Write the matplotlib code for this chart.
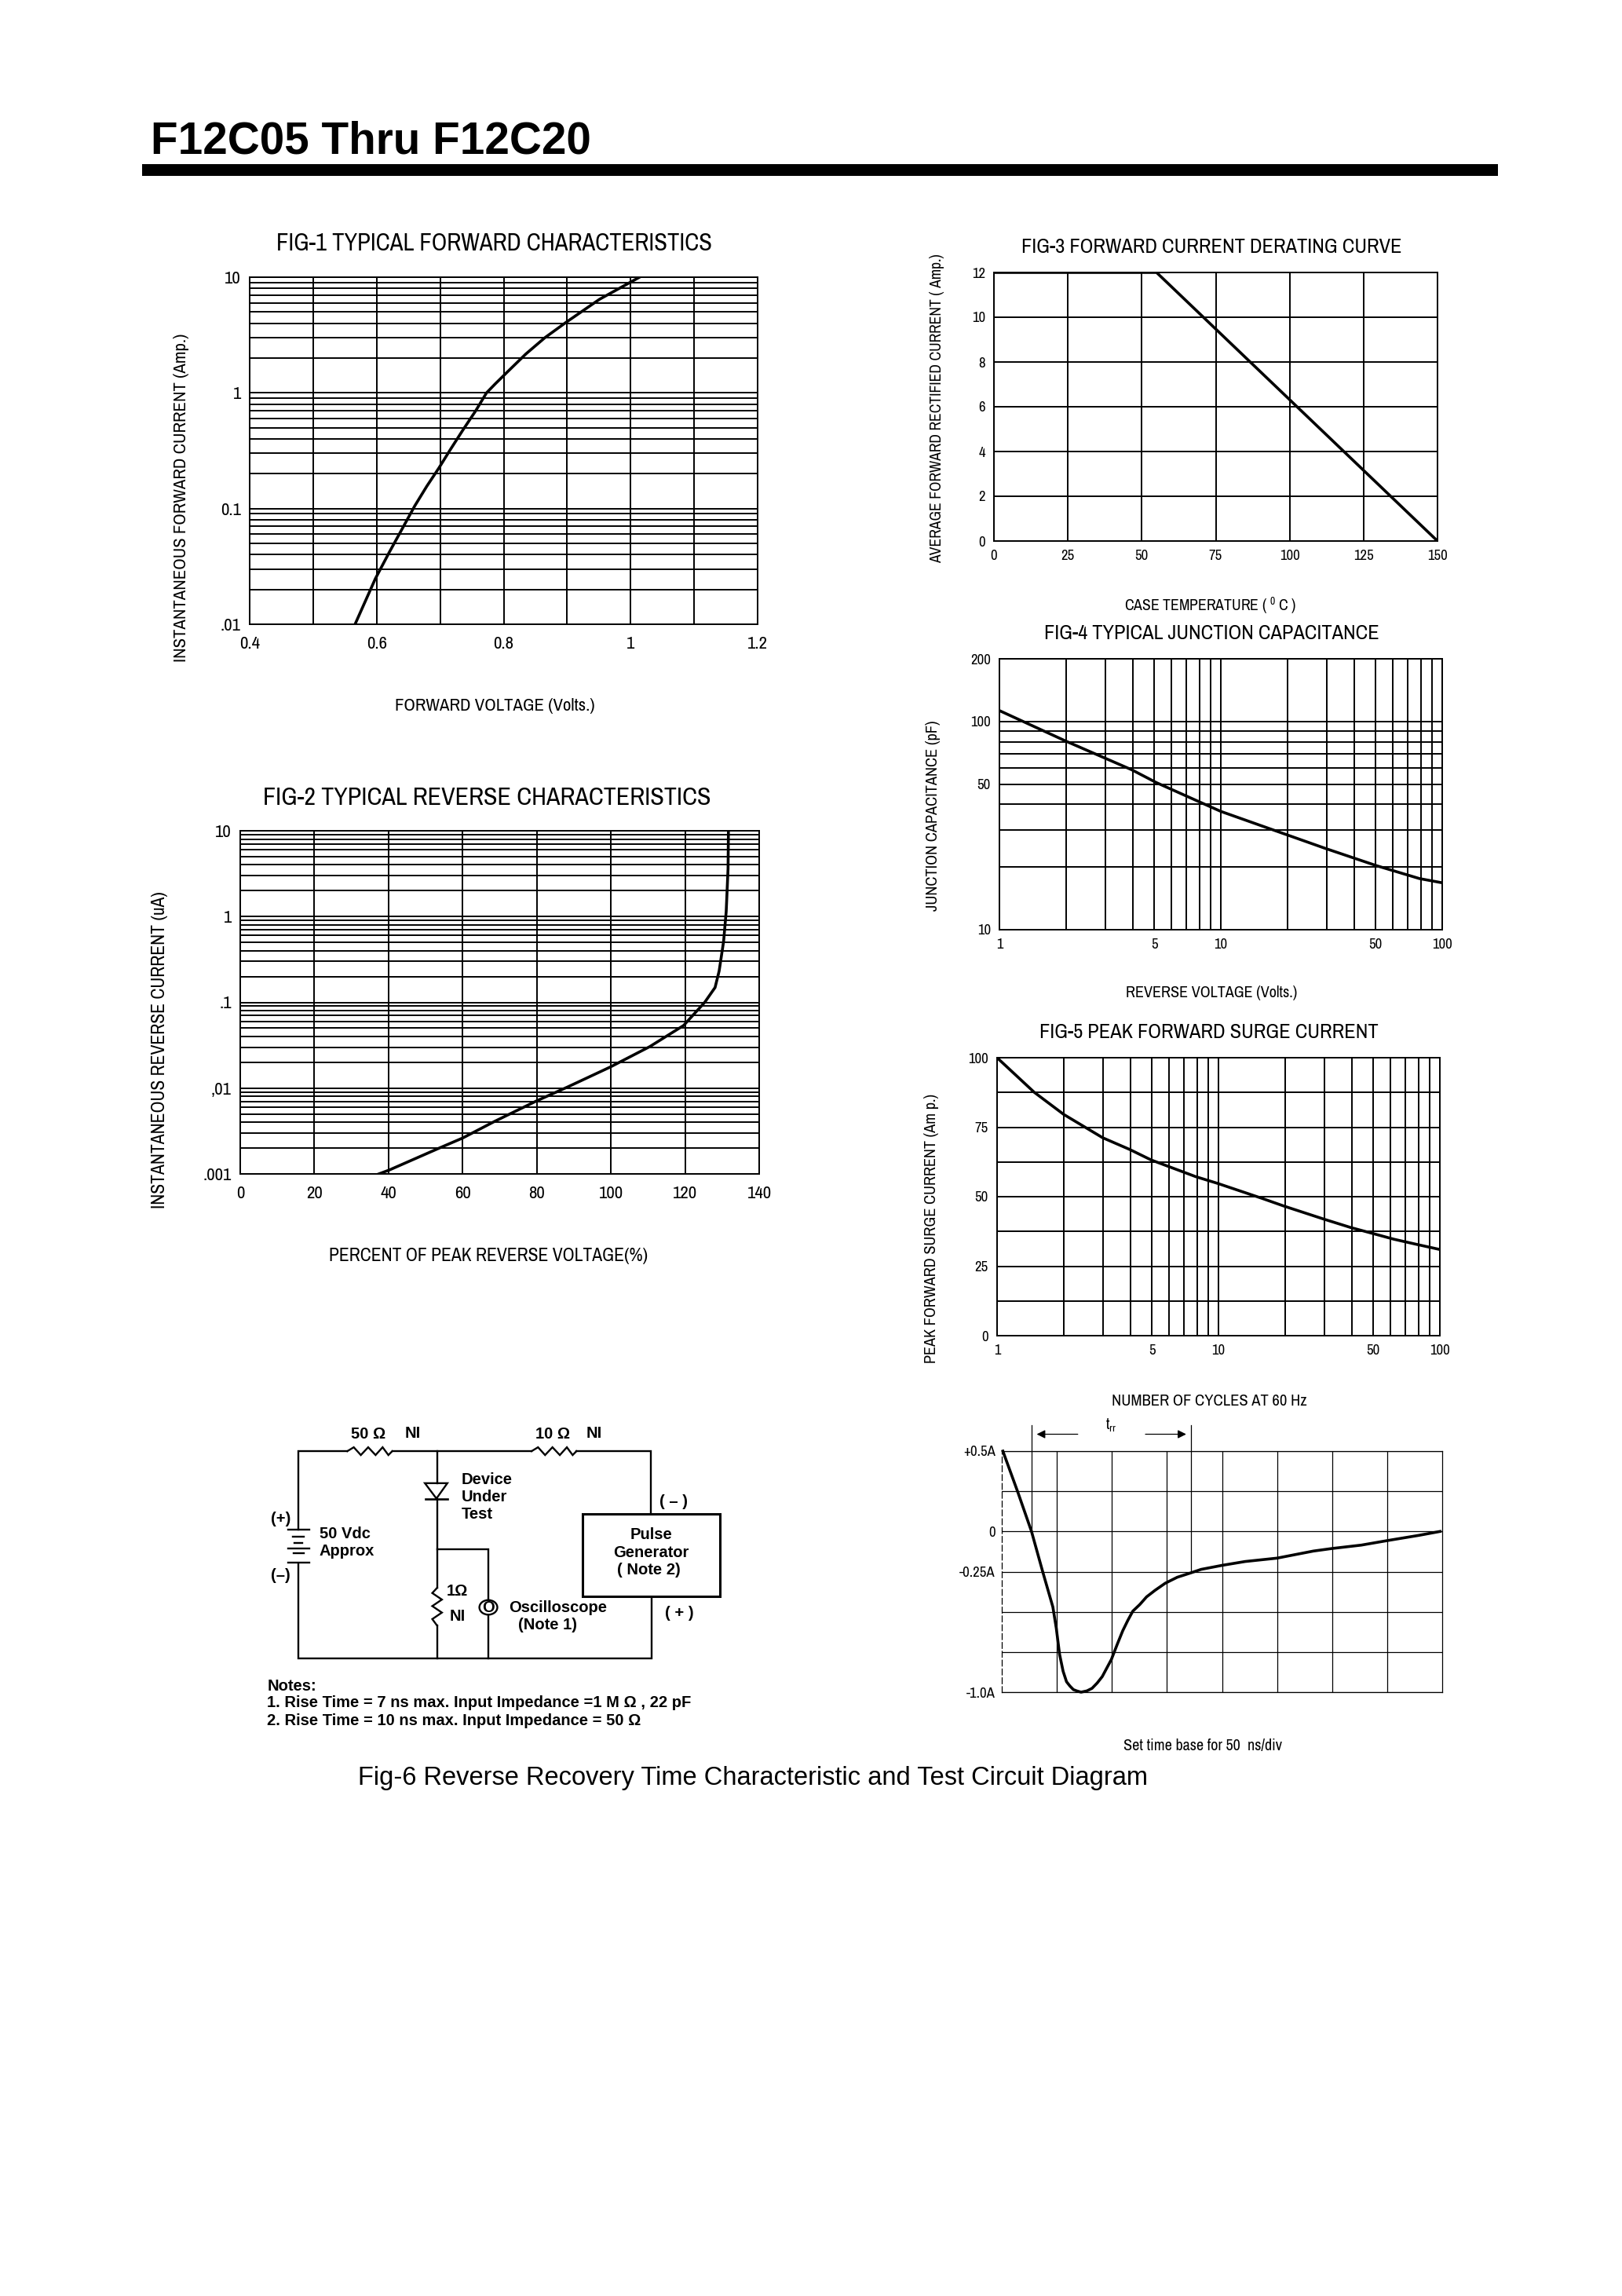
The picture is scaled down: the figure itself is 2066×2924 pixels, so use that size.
# F12C05 thru F12C20 datasheet page: fig 1-5 curves, recovery waveform, test circuit
import matplotlib
matplotlib.use("Agg")
import matplotlib.pyplot as plt
from matplotlib import font_manager
from matplotlib.patches import Rectangle, Circle, Polygon
from matplotlib.ticker import NullFormatter

W, H = 2066, 2924

# ---------- data ----------
fig1_v = [0.566, 0.598, 0.62, 0.64, 0.66, 0.679, 0.698, 0.716, 0.736, 0.756, 0.773, 0.787, 0.805, 0.835, 0.865, 0.898, 0.951, 1.014]
fig1_i = [0.01, 0.0248, 0.042, 0.0665, 0.1054, 0.156, 0.224, 0.323, 0.479, 0.70, 1.0, 1.2, 1.5, 2.17, 3.0, 4.06, 6.44, 10.0]

fig2_pct = [37.4, 40.2, 53.8, 60.0, 68.6, 79.9, 88.4, 99.8, 110.5, 119.6, 125.3, 128.1, 129.2, 130.4, 131.1, 131.6, 131.7]
fig2_ir = [0.001, 0.00111, 0.00201, 0.00262, 0.00409, 0.00708, 0.01035, 0.0176, 0.0305, 0.0537, 0.1, 0.149, 0.232, 0.513, 1.14, 3.6, 10.0]

fig3_temp = [0, 55, 150]
fig3_amp = [12, 12, 0]

fig4_v = [1, 2, 3.95, 5.13, 8.05, 10, 17, 29.9, 50.5, 79, 100]
fig4_c = [112.8, 80.4, 58.7, 50.8, 41, 37, 30.3, 24.5, 20.3, 17.6, 16.8]

fig5_n = [1, 1.47, 2, 3, 3.97, 4.97, 7.9, 9.9, 15.6, 19.8, 30, 39.6, 49.6, 62, 79, 100]
fig5_a = [100, 87.6, 79.6, 71.2, 67, 63.2, 57.2, 54.8, 49.5, 46.6, 41.9, 38.9, 36.8, 34.7, 32.8, 31]

fig6_t = [0.02, 0.29, 0.54, 0.743, 0.928, 0.99, 1.05, 1.114, 1.176, 1.238, 1.3, 1.36, 1.44, 1.547, 1.64, 1.733, 1.825, 1.99,
          2.10, 2.197, 2.29, 2.38, 2.506, 2.63, 2.785, 2.97, 3.187, 3.44, 3.62, 4.0, 4.42, 5.0, 5.66, 6.0, 6.53, 7.0, 7.58, 7.96]
fig6_a = [0.5, 0.246, 0.0, -0.25, -0.47, -0.602, -0.765, -0.87, -0.935, -0.962, -0.984, -0.992, -1.0, -0.992, -0.976, -0.943, -0.903, -0.797,
          -0.70, -0.618, -0.553, -0.496, -0.455, -0.407, -0.366, -0.322, -0.285, -0.257, -0.236, -0.211, -0.187, -0.166, -0.122, -0.106, -0.085, -0.057, -0.024, 0.0]
trr_start, trr_end = 0.545, 3.44

decade_minor = [2, 3, 4, 5, 6, 7, 8, 9]

# ---------- fonts ----------
names = {f.name for f in font_manager.fontManager.ttflist}
NARROW = next(n for n in ["Archivo Narrow", "Roboto Condensed", "Liberation Sans"] if n in names)
plt.rcParams["font.family"] = [NARROW, "DejaVu Sans"]

fig = plt.figure(figsize=(W / 100, H / 100), dpi=100, facecolor="white")


def px_axes(left, right, top, bottom):
    return fig.add_axes([left / W, 1 - bottom / H, (right - left) / W, (bottom - top) / H])


def ftext(x, y, s, size=15, ha="center", rot=0, **kw):
    fig.text(x / W, 1 - y / H, s, fontsize=size, ha=ha, va="center", rotation=rot, color="black", **kw)


def style(ax, xpad=11, ypad=8, size=16.5, lw=1.4):
    ax.set_axisbelow(True)
    ax.grid(True, which="both", color="black", lw=lw)
    ax.tick_params(which="both", length=0)
    ax.tick_params(axis="x", pad=xpad, labelsize=size)
    ax.tick_params(axis="y", pad=ypad, labelsize=size)
    for s in ax.spines.values():
        s.set_linewidth(lw)
    ax.xaxis.set_minor_formatter(NullFormatter())
    ax.yaxis.set_minor_formatter(NullFormatter())


# ---------- header ----------
fig.text(192 / W, 1 - 181 / H, "F12C05 Thru F12C20", fontsize=40.8, fontweight="bold",
         family=["Liberation Sans"], va="center", ha="left")
fig.add_artist(Rectangle((181 / W, 1 - 224 / H), 1727 / W, 15 / H, transform=fig.transFigure,
                         facecolor="black", edgecolor="none"))

# ---------- fig 1 ----------
ax = px_axes(318, 965, 353, 795)
ax.plot(fig1_v, fig1_i, color="black", lw=2.6)
ax.set_yscale("log")
ax.set_xlim(0.4, 1.2)
ax.set_ylim(0.01, 10)
ax.set_xticks([0.4, 0.6, 0.8, 1.0, 1.2], ["0.4", "0.6", "0.8", "1", "1.2"])
ax.set_xticks([0.5, 0.7, 0.9, 1.1], minor=True)
ax.set_yticks([0.01, 0.1, 1, 10], [".01", "0.1", "1", "10"])
ax.set_yticks([m * d for d in (0.01, 0.1, 1) for m in decade_minor], minor=True)
style(ax)
ftext(630, 310, "FIG-1 TYPICAL FORWARD CHARACTERISTICS", 22)
ftext(630, 899, "FORWARD VOLTAGE (Volts.)", 16.4)
ftext(231, 634, "INSTANTANEOUS FORWARD CURRENT (Amp.)", 16.4, rot=90)

# ---------- fig 2 ----------
ax = px_axes(306, 967, 1058, 1495)
ax.plot(fig2_pct, fig2_ir, color="black", lw=2.6)
ax.set_yscale("log")
ax.set_xlim(0, 140)
ax.set_ylim(0.001, 10)
ax.set_xticks(range(0, 141, 20), [str(v) for v in range(0, 141, 20)])
ax.set_yticks([0.001, 0.01, 0.1, 1, 10], [".001", ",01", ".1", "1", "10"])
ax.set_yticks([m * d for d in (0.001, 0.01, 0.1, 1) for m in decade_minor], minor=True)
style(ax, xpad=11)
ftext(620, 1016, "FIG-2 TYPICAL REVERSE CHARACTERISTICS", 23)
ftext(622, 1599, "PERCENT OF PEAK REVERSE VOLTAGE(%)", 17)
ftext(204, 1337, "INSTANTANEOUS REVERSE CURRENT (uA)", 17, rot=90)

# ---------- fig 3 ----------
ax = px_axes(1266, 1831, 347, 689)
ax.plot(fig3_temp, fig3_amp, color="black", lw=2.6)
ax.set_xlim(0, 150)
ax.set_ylim(0, 12)
ax.set_xticks(range(0, 151, 25), [str(v) for v in range(0, 151, 25)])
ax.set_yticks(range(0, 13, 2), [str(v) for v in range(0, 13, 2)])
style(ax, size=13.5, xpad=8)
ftext(1543, 315, "FIG-3 FORWARD CURRENT DERATING CURVE", 19)
ftext(1542, 771, "CASE TEMPERATURE ( $\\mathregular{^0}$ C )", 14.2)
ftext(1194, 520, "AVERAGE FORWARD RECTIFIED CURRENT ( Amp.)", 14.1, rot=90)

# ---------- fig 4 ----------
ax = px_axes(1273, 1837, 839, 1184)
ax.plot(fig4_v, fig4_c, color="black", lw=2.6)
ax.set_xscale("log")
ax.set_yscale("log")
ax.set_xlim(1, 100)
ax.set_ylim(10, 200)
ax.set_xticks([1, 5, 10, 50, 100], ["1", "5", "10", "50", "100"])
ax.set_xticks([m * d for d in (1, 10) for m in decade_minor if m * d != 5 and m * d != 50], minor=True)
ax.set_yticks([10, 50, 100, 200], ["10", "50", "100", "200"])
ax.set_yticks([20, 30, 40, 60, 70, 80, 90], minor=True)
style(ax, size=13.5, xpad=8)
ftext(1543, 806, "FIG-4 TYPICAL JUNCTION CAPACITANCE", 19)
ftext(1543, 1265, "REVERSE VOLTAGE (Volts.)", 14.5)
ftext(1189, 1039, "JUNCTION CAPACITANCE (pF)", 14.7, rot=90)

# ---------- fig 5 ----------
ax = px_axes(1270, 1834, 1347, 1701)
ax.plot(fig5_n, fig5_a, color="black", lw=2.6)
ax.set_xscale("log")
ax.set_xlim(1, 100)
ax.set_ylim(0, 100)
ax.set_xticks([1, 5, 10, 50, 100], ["1", "5", "10", "50", "100"])
ax.set_xticks([m * d for d in (1, 10) for m in decade_minor if m * d != 5 and m * d != 50], minor=True)
ax.set_yticks([0, 25, 50, 75, 100], ["0", "25", "50", "75", "100"])
ax.set_yticks([12.5, 37.5, 62.5, 87.5], minor=True)
style(ax, size=13.5, xpad=8)
ftext(1540, 1314, "FIG-5 PEAK FORWARD SURGE CURRENT", 19)
ftext(1540, 1784, "NUMBER OF CYCLES AT 60 Hz", 14.8)
ftext(1186, 1565, "PEAK FORWARD SURGE CURRENT (Am p.)", 14.6, rot=90)

# ---------- fig 6 waveform ----------
ax = px_axes(1276, 1837, 1848, 2155)
ax.plot(fig6_t, fig6_a, color="black", lw=2.6, clip_on=False, zorder=4)
ax.set_xlim(0, 8)
ax.set_ylim(-1.0, 0.5)
ax.set_xticks(range(1, 8), [""] * 7)
ax.set_yticks([-1.0, -0.25, 0, 0.5], ["-1.0A", "-0.25A", "0", "+0.5A"])
ax.set_yticks([-0.75, -0.5, 0.25], minor=True)
style(ax, size=13.5, ypad=6, lw=0.9)
ax.spines["left"].set_linestyle((0, (6, 3)))
ax.plot([trr_start, trr_start], [0, 0.66], color="black", lw=0.9, clip_on=False, zorder=3)
ax.plot([trr_end, trr_end], [-0.25, 0.66], color="black", lw=0.9, clip_on=False, zorder=3)
ax.annotate("", xy=(trr_start + 0.05, 0.605), xytext=(1.42, 0.605), annotation_clip=False,
            arrowprops=dict(arrowstyle="-|>", color="black", lw=0.9, mutation_scale=16))
ax.annotate("", xy=(trr_end - 0.05, 0.605), xytext=(2.57, 0.605), annotation_clip=False,
            arrowprops=dict(arrowstyle="-|>", color="black", lw=0.9, mutation_scale=16))
ftext(1415, 1815, "$\\mathregular{t_{rr}}$", 14)
ftext(1532, 2224, "Set time base for 50  ns/div", 14.5, fontweight="bold")
ftext(959, 2265, "Fig-6 Reverse Recovery Time Characteristic and Test Circuit Diagram", 23.5,
      family=["Liberation Sans"])

# ---------- test circuit, drawn in the crop's own coordinates ----------
cx = fig.add_axes([320 / W, 1 - 2240 / H, 640 / W, 440 / H])
cx.set_xlim(0, 1568)
cx.set_ylim(1327, 0)
cx.axis("off")

wires = [
    [(148, 445), (148, 145), (300, 145)],
    [(440, 145), (875, 145)],
    [(1015, 145), (1248, 145), (1248, 385)],
    [(148, 575), (148, 942), (1250, 942), (1250, 705)],
    [(580, 145), (580, 268)], [(580, 330), (580, 670)], [(580, 815), (580, 942)],
    [(580, 522), (740, 522), (740, 715)], [(740, 775), (740, 942)],
]
zigzags = [
    [(300, 145), (320, 130), (342, 160), (365, 130), (388, 160), (410, 130), (428, 160), (440, 145)],
    [(875, 145), (895, 130), (917, 160), (940, 130), (963, 160), (985, 130), (1003, 160), (1015, 145)],
    [(580, 670), (565, 690), (595, 715), (565, 740), (595, 765), (565, 790), (580, 815)],
]
battery_plates = [(447, 115, 182), (472, 130, 165), (497, 135, 160), (518, 115, 182), (537, 132, 163), (573, 115, 182)]

for seg in wires + zigzags:
    cx.plot(*zip(*seg), color="black", lw=1.7, solid_joinstyle="miter")
for y, x0, x1 in battery_plates:
    cx.plot([x0, x1], [y, y], color="black", lw=1.7)
cx.add_patch(Polygon([(542, 268), (612, 268), (578, 327)], closed=True, fill=False, edgecolor="black", lw=1.7))
cx.plot([545, 612], [330, 330], color="black", lw=1.9)
cx.add_patch(Rectangle((1035, 387), 427, 316, fill=False, edgecolor="black", lw=2.2))
cx.add_patch(Circle((740, 745), 28, fill=False, edgecolor="black", lw=1.7))

circuit_labels = [
    (365, 80, "50 Ω", "center"), (505, 78, "NI", "center"), (940, 80, "10 Ω", "center"), (1070, 78, "NI", "center"),
    (655, 255, "Device", "left"), (655, 322, "Under", "left"), (655, 388, "Test", "left"),
    (92, 405, "(+)", "center"), (92, 623, "(–)", "center"),
    (212, 462, "50 Vdc", "left"), (212, 530, "Approx", "left"),
    (1318, 340, "( – )", "center"), (1335, 767, "( + )", "center"),
    (1248, 466, "Pulse", "center"), (1248, 535, "Generator", "center"), (1240, 603, "( Note 2)", "center"),
    (610, 682, "1Ω", "left"), (618, 780, "NI", "left"), (740, 745, "O", "center"),
    (805, 747, "Oscilloscope", "left"), (832, 813, "(Note 1)", "left"),
    (50, 1047, "Notes:", "left"),
    (50, 1112, "1. Rise Time = 7 ns max. Input Impedance =1 M Ω , 22 pF", "left"),
    (50, 1180, "2. Rise Time = 10 ns max. Input Impedance = 50 Ω", "left"),
]
for x, y, s, ha in circuit_labels:
    cx.text(x, y, s, fontsize=14.5, fontweight="bold", ha=ha, va="center", family=["Liberation Sans"])

fig.savefig("out.png", dpi=100, facecolor="white")
